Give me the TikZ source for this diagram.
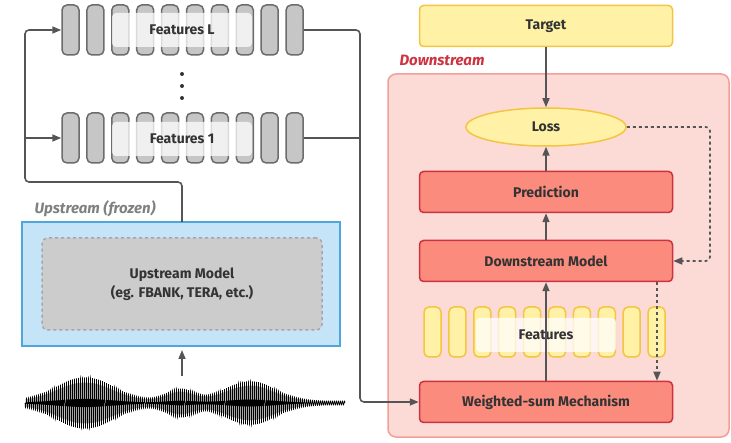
\documentclass[tikz,border=0pt]{standalone}
\usepackage{fontspec}
\setmainfont{Fira Sans}
\usetikzlibrary{arrows.meta,shapes.geometric,positioning}
\definecolor{upblue}{HTML}{C6E4F7}
\definecolor{upedge}{HTML}{4DA6DE}
\definecolor{downpink}{HTML}{FCDAD6}
\definecolor{downedge}{HTML}{F2A097}
\definecolor{redfill}{HTML}{FB8B7D}
\definecolor{rededge}{HTML}{CC3340}
\definecolor{yelfill}{HTML}{FFF1A6}
\definecolor{yeledge}{HTML}{F4C443}
\definecolor{txt}{HTML}{333333}
\definecolor{wire}{HTML}{555555}
\tikzset{
  box/.style={draw=rededge, fill=redfill, line width=1.5pt, rounded corners=4pt,
    minimum width=253pt, minimum height=41pt, font=\fontsize{14}{16}\selectfont\bfseries, text=txt},
  bar/.style={draw=#1, line width=1.5pt, rounded corners=5pt, minimum width=17pt, minimum height=50pt},
  tag/.style={fill=white, fill opacity=0.75, text opacity=1, rounded corners=4pt,
    minimum width=140pt, minimum height=34pt, font=\fontsize{14}{16}\selectfont\bfseries, text=txt},
  wire/.style={draw=wire, line width=1.6pt, rounded corners=4pt, -{Triangle[length=9pt,width=7pt]}},
}
\begin{document}
\begin{tikzpicture}[x=1pt,y=-1pt]
  \useasboundingbox (0,0) rectangle (731,443);

  % Downstream frame
  \draw[fill=downpink, draw=downedge, line width=1.5pt, rounded corners=8pt] (388,74) rectangle (729,437);
  \node[text=rededge, font=\fontsize{15}{17}\selectfont\bfseries\itshape] (dslabel) at (442,60) {Downstream};

  % Upstream frame
  \draw[fill=upblue, draw=upedge, line width=1.5pt] (22,222) rectangle (340,346);
  \node[draw=gray!70, dashed, line width=1.5pt, fill=gray!40, rounded corners=6pt,
    minimum width=280pt, minimum height=92pt, align=center, text=txt,
    font=\fontsize{14}{19}\selectfont\bfseries] (upmodel) at (182,284)
    {Upstream Model\\(eg. FBANK, TERA, etc.)};
  \node[text=gray, font=\fontsize{15}{17}\selectfont\bfseries\itshape] (uplabel) at (95,209) {Upstream (frozen)};

  % Feature stacks
  \foreach \i in {0,...,9} {
    \node[bar=gray!85!black, fill=gray!45] (fl\i) at (70.5+24.9*\i,30) {};
    \node[bar=gray!85!black, fill=gray!45] (fa\i) at (70.5+24.9*\i,138) {};
    \node[bar=yeledge, fill=yelfill] (fd\i) at (432.5+24.9*\i,332) {};
  }
  \node[tag] (featL) at (182,30) {Features L};
  \node[tag] (feat1) at (182,139) {Features 1};
  \node[tag] (featD) at (546,335) {Features};
  \foreach \y in {74,86,98} \fill[txt] (182,\y) circle (2pt);

  % Downstream nodes
  \node[box, draw=yeledge, fill=yelfill] (target) at (546,26) {Target};
  \node[box, ellipse, draw=yeledge, fill=yelfill, minimum width=160pt, minimum height=38pt,
    rounded corners=0pt] (loss) at (546,127) {Loss};
  \node[box] (pred) at (546,192) {Prediction};
  \node[box] (dsmodel) at (546,261) {Downstream Model};
  \node[box] (wsum) at (546,402) {Weighted-sum Mechanism};

  % Waveform, drawn in pieces
  \foreach \s in {25,65,...,305} {
    \draw[black, line width=0.6pt] plot[domain=\s:\s+40, samples=240]
      (\x, {403 + (24*exp(-((\x-85)/40)^2) + 20*exp(-((\x-250)/35)^2) + 12*exp(-((\x-180)/20)^2) + 2)*sin((\x-\s)*180)});
  }
  \coordinate (wavetop) at (182,376);

  % Connectors
  \draw[wire] (wavetop) -- (upmodel.south |- 0,350);
  \draw[wire] (182,222) -- (182,182) -- (25,182) -- (25,30) -- (fl0.west);
  \draw[wire] (25,138) -- (fa0.west);
  \draw[wire] (fl9.east) -- (360,30) -- (360,402) -- (wsum.west);
  \draw[wire, -] (fa9.east) -- (360,138);
  \draw[wire] (target) -- (loss);
  \draw[wire] (pred) -- (loss);
  \draw[wire] (dsmodel) -- (pred);
  \draw[wire] (wsum) -- (dsmodel);
  \draw[wire, dashed] (loss.east) -- (710,127) -- (710,261) -- (dsmodel.east);
  \draw[wire, dashed] (dsmodel.south -| 657,0) -- (wsum.north -| 657,0);
\end{tikzpicture}
\end{document}
